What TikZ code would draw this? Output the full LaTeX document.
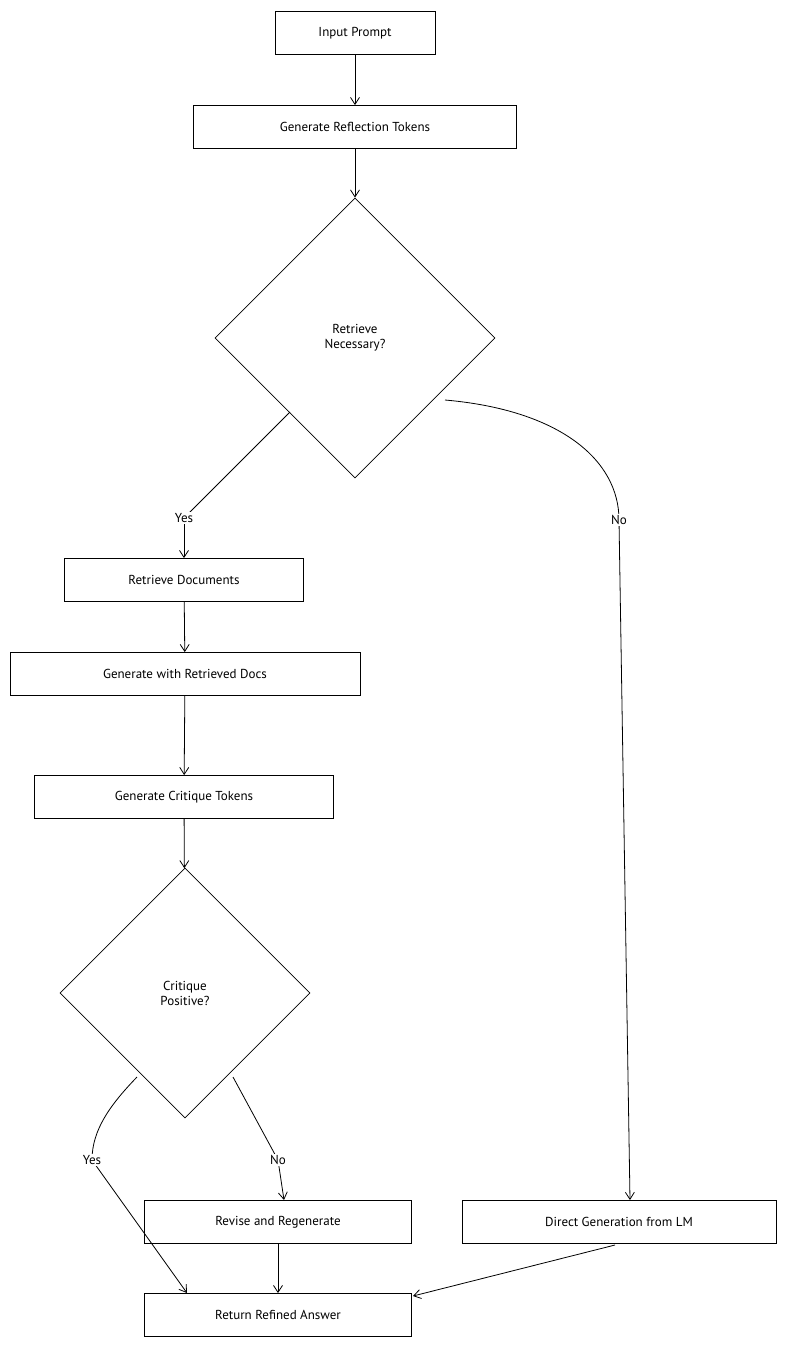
\documentclass[tikz,border=0pt]{standalone}
\usepackage{fontspec}
\setmainfont{PT Sans}
\usetikzlibrary{shapes.geometric,arrows.meta}
\begin{document}
\begin{tikzpicture}[x=1pt,y=-1pt,
  box/.style={draw,thick,rectangle,minimum height=43pt,inner sep=0pt,font=\fontsize{13}{15}\selectfont},
  dia/.style={draw,thick,diamond,inner sep=0pt,font=\fontsize{13}{15}\selectfont,align=center},
  arr/.style={thick,-{Straight Barb[length=7pt,width=9pt]}},
  lab/.style={fill=white,inner sep=1pt,font=\fontsize{13}{15}\selectfont}]
\useasboundingbox (0,0) rectangle (786,1347);
\node[box,minimum width=160pt] (in) at (355,33) {Input Prompt};
\node[box,minimum width=323pt] (grt) at (355,127) {Generate Reflection Tokens};
\node[dia,minimum width=280pt,minimum height=280pt] (rn) at (355,338) {Retrieve\\Necessary?};
\node[box,minimum width=239pt] (rd) at (184,580) {Retrieve Documents};
\node[box,minimum width=350pt] (gw) at (185,674) {Generate with Retrieved Docs};
\node[box,minimum width=299pt] (gc) at (184,797) {Generate Critique Tokens};
\node[dia,minimum width=250pt,minimum height=250pt] (cp) at (185,993) {Critique\\Positive?};
\node[box,minimum width=267pt] (rr) at (278,1222) {Revise and Regenerate};
\node[box,minimum width=314pt] (dg) at (619,1222) {Direct Generation from LM};
\node[box,minimum width=267pt] (ra) at (278,1315) {Return Refined Answer};
\coordinate (y1) at (184,518);
\coordinate (n1) at (619,520);
\coordinate (y2) at (92,1160);
\coordinate (n2) at (278,1160);
\draw[arr] (in) -- (grt);
\draw[arr] (grt) -- (rn);
\draw[thick] (290,412) -- (y1);
\draw[arr] (y1) -- (rd.north);
\node[lab] at (y1) {Yes};
\draw[thick] (445,400) .. controls (560,410) and (619,460) .. (n1);
\draw[arr] (n1) -- (630,1200);
\node[lab] at (n1) {No};
\draw[arr] (rd) -- (gw);
\draw[arr] (gw) -- (gc);
\draw[arr] (gc) -- (cp);
\draw[thick] (137,1077) .. controls (110,1105) and (92,1130) .. (y2);
\draw[arr] (y2) -- (187,1293);
\node[lab] at (y2) {Yes};
\draw[thick] (233,1077) -- (n2);
\draw[arr] (n2) -- (284,1200);
\node[lab] at (n2) {No};
\draw[arr] (rr) -- (ra);
\draw[arr] (615,1245) -- (413,1296);
\end{tikzpicture}
\end{document}
